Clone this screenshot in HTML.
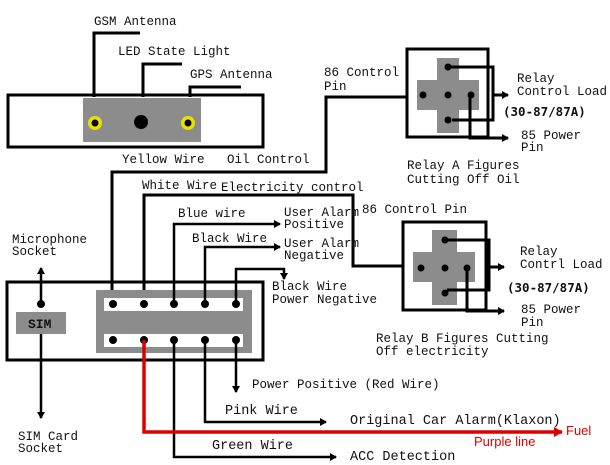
<!DOCTYPE html>
<html><head><meta charset="utf-8"><style>
html,body{margin:0;padding:0;background:#fff;}
svg{display:block;}
text{font-family:"Liberation Mono","DejaVu Sans Mono",monospace;font-size:12.5px;fill:#111;}
</style></head><body>
<svg width="610" height="465" viewBox="0 0 610 465" xmlns="http://www.w3.org/2000/svg">
<defs>
<marker id="ar" markerWidth="8" markerHeight="8" refX="6" refY="4" orient="auto" markerUnits="userSpaceOnUse"><path d="M0,0 L7,4 L0,8 Z" fill="#000"/></marker>
<marker id="arr" markerWidth="10" markerHeight="10" refX="8" refY="5" orient="auto" markerUnits="userSpaceOnUse"><path d="M0,0 L9,5 L0,10 Z" fill="#d00"/></marker>
</defs>
<rect width="610" height="465" fill="#fff"/>
<g fill="none" stroke="#000" stroke-width="3">
<rect x="8" y="95" width="255" height="52"/>
</g>
<rect x="83" y="98" width="118" height="44" fill="#8c8c8c"/>
<circle cx="95" cy="123" r="7" fill="#e8e000"/><circle cx="95" cy="123" r="3.5" fill="#000"/>
<circle cx="188" cy="123" r="7" fill="#e8e000"/><circle cx="188" cy="123" r="3.5" fill="#000"/>
<circle cx="141" cy="122" r="7" fill="#000"/>
<g fill="none" stroke="#000" stroke-width="3">
<polyline points="94,97 94,33 140,33"/>
<polyline points="143,97 143,64 182,64"/>
<polyline points="190,97 190,87 241,87"/>
<polyline points="112,304 112,172 326,172 326,97 407,97"/>
<polyline points="144,304 144,195 353,195 353,266 403,266"/>
<rect x="407" y="49" width="81" height="88"/>
<rect x="403" y="222" width="83" height="88"/>
</g>
<rect x="437" y="58" width="22" height="75" fill="#8c8c8c"/>
<rect x="417" y="80" width="62" height="30" fill="#8c8c8c"/>
<rect x="432" y="230" width="25" height="75" fill="#8c8c8c"/>
<rect x="413" y="252" width="62" height="30" fill="#8c8c8c"/>
<g fill="#000">
<circle cx="448" cy="67" r="3.5"/><circle cx="423" cy="95" r="3.5"/><circle cx="448" cy="95" r="3.5"/><circle cx="471" cy="95" r="3.5"/><circle cx="448" cy="120" r="3.5"/>
<circle cx="445" cy="240" r="3.5"/><circle cx="421" cy="268" r="3.5"/><circle cx="445" cy="268" r="3.5"/><circle cx="467" cy="268" r="3.5"/><circle cx="445" cy="293" r="3.5"/>
</g>
<g fill="none" stroke="#000" stroke-width="3">
<polyline points="450,67 493,67 493,120 452,120"/>
<line x1="493" y1="95" x2="508" y2="95" marker-end="url(#ar)"/>
<polyline points="470,97 470,138 508,138" marker-end="url(#ar)"/>
<polyline points="447,240 489,240 489,290 447,290"/>
<line x1="489" y1="267" x2="504" y2="267" marker-end="url(#ar)"/>
<polyline points="467,270 467,311 504,311" marker-end="url(#ar)"/>
<rect x="7" y="282" width="256" height="78"/>
</g>
<rect x="96" y="290" width="156" height="63" fill="#8c8c8c"/>
<rect x="104" y="298" width="139" height="13" fill="#fff"/>
<rect x="104" y="334" width="139" height="13" fill="#fff"/>
<rect x="16" y="312" width="50" height="22" fill="#8c8c8c"/>
<text x="28" y="328" style="font-weight:bold;font-size:13px">SIM</text>
<g fill="#000">
<circle cx="41" cy="304" r="4"/>
<circle cx="113" cy="304" r="4"/><circle cx="144" cy="304" r="4"/><circle cx="174" cy="304" r="4"/><circle cx="205" cy="304" r="4"/><circle cx="236" cy="304" r="4"/>
<circle cx="113" cy="340" r="4"/><circle cx="144" cy="340" r="4"/><circle cx="174" cy="340" r="4"/><circle cx="205" cy="340" r="4"/><circle cx="236" cy="340" r="4"/>
</g>
<g fill="none" stroke="#000" stroke-width="2.5">
<line x1="41" y1="304" x2="41" y2="268" marker-end="url(#ar)"/>
<line x1="41" y1="334" x2="41" y2="418" marker-end="url(#ar)"/>
<polyline points="174,304 174,224 280,224" marker-end="url(#ar)"/>
<polyline points="205,304 205,247 280,247" marker-end="url(#ar)"/>
<polyline points="236,304 236,269 284,269 284,279" marker-end="url(#ar)"/>
<line x1="236" y1="340" x2="236" y2="392" marker-end="url(#ar)"/>
<polyline points="205,340 205,422 326,422" marker-end="url(#ar)"/>
<polyline points="174,340 174,457 336,457" marker-end="url(#ar)"/>
</g>
<polyline points="144,340 144,432 562,432" fill="none" stroke="#d00" stroke-width="3.5" marker-end="url(#arr)"/>
<text x="94" y="25">GSM Antenna</text>
<text x="118" y="55">LED State Light</text>
<text x="190" y="78">GPS Antenna</text>
<text x="122" y="163">Yellow Wire</text>
<text x="227" y="163">Oil Control</text>
<text x="142" y="189">White Wire</text>
<text x="221" y="191">Electricity control</text>
<text x="324" y="76">86 Control</text>
<text x="324" y="90">Pin</text>
<text x="517" y="82">Relay</text>
<text x="517" y="95">Control Load</text>
<text x="503" y="116" style="font-weight:bold;font-family:'DejaVu Sans Mono',monospace;font-size:12.5px">(30-87/87A)</text>
<text x="521" y="139">85 Power</text>
<text x="521" y="151">Pin</text>
<text x="407" y="169">Relay A Figures</text>
<text x="407" y="183">Cutting Off Oil</text>
<text x="362" y="213">86 Control Pin</text>
<text x="520" y="255">Relay</text>
<text x="520" y="268">Contrl Load</text>
<text x="507" y="292" style="font-weight:bold;font-family:'DejaVu Sans Mono',monospace;font-size:12.5px">(30-87/87A)</text>
<text x="521" y="313">85 Power</text>
<text x="521" y="326">Pin</text>
<text x="376" y="342">Relay B Figures Cutting</text>
<text x="376" y="355">Off electricity</text>
<text x="12" y="243">Microphone</text>
<text x="12" y="255">Socket</text>
<text x="18" y="440">SIM Card</text>
<text x="18" y="452">Socket</text>
<text x="178" y="217">Blue wire</text>
<text x="284" y="216">User Alarm</text>
<text x="284" y="228">Positive</text>
<text x="192" y="242">Black Wire</text>
<text x="284" y="247">User Alarm</text>
<text x="284" y="259">Negative</text>
<text x="272" y="290">Black Wire</text>
<text x="272" y="303">Power Negative</text>
<text x="252" y="388">Power Positive (Red Wire)</text>
<text x="225" y="414" style="font-size:13.5px">Pink Wire</text>
<text x="350" y="424" style="font-size:13.5px">Original Car Alarm(Klaxon)</text>
<text x="212" y="449" style="font-size:13.5px">Green Wire</text>
<text x="350" y="460" style="font-size:13.5px">ACC Detection</text>
<text x="566" y="435" style="fill:#d00;font-family:'Liberation Sans',sans-serif;font-size:13px">Fuel</text>
<text x="474" y="446" style="fill:#d00;font-family:'Liberation Sans',sans-serif;font-size:13px">Purple line</text>
</svg>
</body></html>
